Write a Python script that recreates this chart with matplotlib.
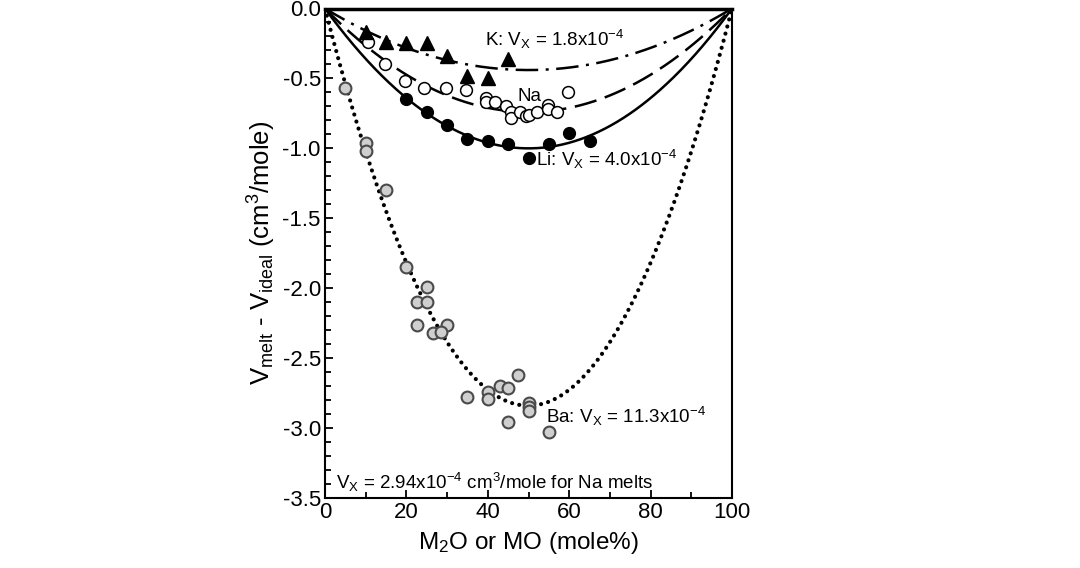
import matplotlib
matplotlib.use("Agg")
import matplotlib.pyplot as plt
import numpy as np
from matplotlib.ticker import MultipleLocator

plt.rcParams['font.family'] = ['Liberation Sans', 'DejaVu Sans']
plt.rcParams['mathtext.fontset'] = 'custom'
plt.rcParams['mathtext.rm'] = 'Liberation Sans'
plt.rcParams['mathtext.it'] = 'Liberation Sans:italic'
plt.rcParams['axes.unicode_minus'] = False

# ---- data (mole%, cm3/mole) ----
k_x = [10, 15, 20, 25, 30, 35, 40, 45]
k_y = [-0.17, -0.24, -0.25, -0.25, -0.34, -0.48, -0.50, -0.36]

na_x = [10.5, 14.7, 19.6, 24.3, 29.7, 34.6, 39.5, 39.5, 41.7, 44.4, 45.8, 45.8,
        47.8, 49.5, 50.2, 52.2, 54.7, 54.7, 57.1, 59.6]
na_y = [-0.24, -0.40, -0.52, -0.57, -0.57, -0.58, -0.64, -0.67, -0.67, -0.70, -0.74, -0.78,
        -0.74, -0.77, -0.76, -0.74, -0.69, -0.72, -0.74, -0.60]

li_x = [20, 25, 30, 35, 40, 45, 50, 55, 60, 65]
li_y = [-0.65, -0.74, -0.83, -0.93, -0.95, -0.97, -1.07, -0.97, -0.89, -0.95]

ba_x = [5, 10, 10, 15, 20, 25, 22.5, 25, 22.5, 30, 26.5, 28.5,
        35, 40, 40, 43, 45, 47.5, 45, 50, 50, 50, 55]
ba_y = [-0.57, -0.96, -1.02, -1.30, -1.85, -1.99, -2.10, -2.10, -2.26, -2.26, -2.32, -2.31,
        -2.78, -2.74, -2.79, -2.70, -2.71, -2.62, -2.96, -2.82, -2.85, -2.88, -3.03]

# regular-solution fit curves: value at 50 mole%
fit_names = ['K', 'Na', 'Li', 'Ba']
fit_depth = [-0.44, -0.74, -1.00, -2.84]

x_ticks = [0, 20, 40, 60, 80, 100]
y_ticks = [0.0, -0.5, -1.0, -1.5, -2.0, -2.5, -3.0, -3.5]

fig = plt.figure(figsize=(10.8, 5.68), dpi=100)
ax = fig.add_axes([325/1080, 1-498/568, (732-325)/1080, (498-8.5)/568])

xc = np.linspace(0, 100, 401)
frac = xc / 100.0
styles = {
    'K': dict(color='black', lw=1.8, dashes=[9, 3, 1.2, 3]),
    'Na': dict(color='black', lw=1.8, dashes=[9, 3.5]),
    'Li': dict(color='black', lw=1.8, linestyle='-'),
    'Ba': dict(color='black', lw=3.0, linestyle=(0, (0.01, 1.75)), dash_capstyle='round'),
}
for name, d in zip(fit_names, fit_depth):
    yc = 4 * d * frac * (1 - frac)
    ax.plot(xc, yc, **styles[name], zorder=2)

ax.plot(ba_x, ba_y, 'o', ms=8.5, mfc='#cfcfcf', mec='#4a4a4a', mew=1.5, zorder=3)
ax.plot(li_x, li_y, 'o', ms=8.5, mfc='black', mec='black', zorder=3)
ax.plot(na_x, na_y, 'o', ms=8.5, mfc='white', mec='black', mew=1.1, zorder=3)
ax.plot(k_x, k_y, '^', ms=10, mfc='black', mec='black', zorder=3)

fs = 13.5
ax.text(39.3, -0.22, r'K: V$_\mathregular{X}$ = 1.8x10$^\mathregular{-4}$', fontsize=fs, va='center')
ax.text(47.3, -0.63, 'Na', fontsize=fs, va='center')
ax.text(51.8, -1.08, r'Li: V$_\mathregular{X}$ = 4.0x10$^\mathregular{-4}$', fontsize=fs, va='center')
ax.text(54.2, -2.92, r'Ba: V$_\mathregular{X}$ = 11.3x10$^\mathregular{-4}$', fontsize=fs, va='center')
ax.text(2.6, -3.39, r'V$_\mathregular{X}$ = 2.94x10$^\mathregular{-4}$ cm$^\mathregular{3}$/mole for Na melts',
        fontsize=fs, va='center')

ax.set_xlim(0, 100)
ax.set_ylim(-3.5, 0.0)
ax.set_xticks(x_ticks)
ax.set_yticks(y_ticks)
ax.set_yticklabels(['%.1f' % v for v in y_ticks])
ax.xaxis.set_minor_locator(MultipleLocator(10))
ax.yaxis.set_minor_locator(MultipleLocator(0.1))
ax.tick_params(which='both', direction='in', top=False, right=False, labelsize=16, width=1.3)
ax.tick_params(which='major', length=6, pad=3)
ax.tick_params(which='minor', length=4)
for s in ax.spines.values():
    s.set_linewidth(1.5)
ax.spines['top'].set_linewidth(2.5)

ax.set_xlabel(r'M$_\mathregular{2}$O or MO (mole%)', fontsize=17.5, labelpad=5)
ax.set_ylabel(r'V$_\mathregular{melt}$ - V$_\mathregular{ideal}$ (cm$^\mathregular{3}$/mole)', fontsize=18.5, labelpad=3)

fig.savefig('out.png', dpi=100)
